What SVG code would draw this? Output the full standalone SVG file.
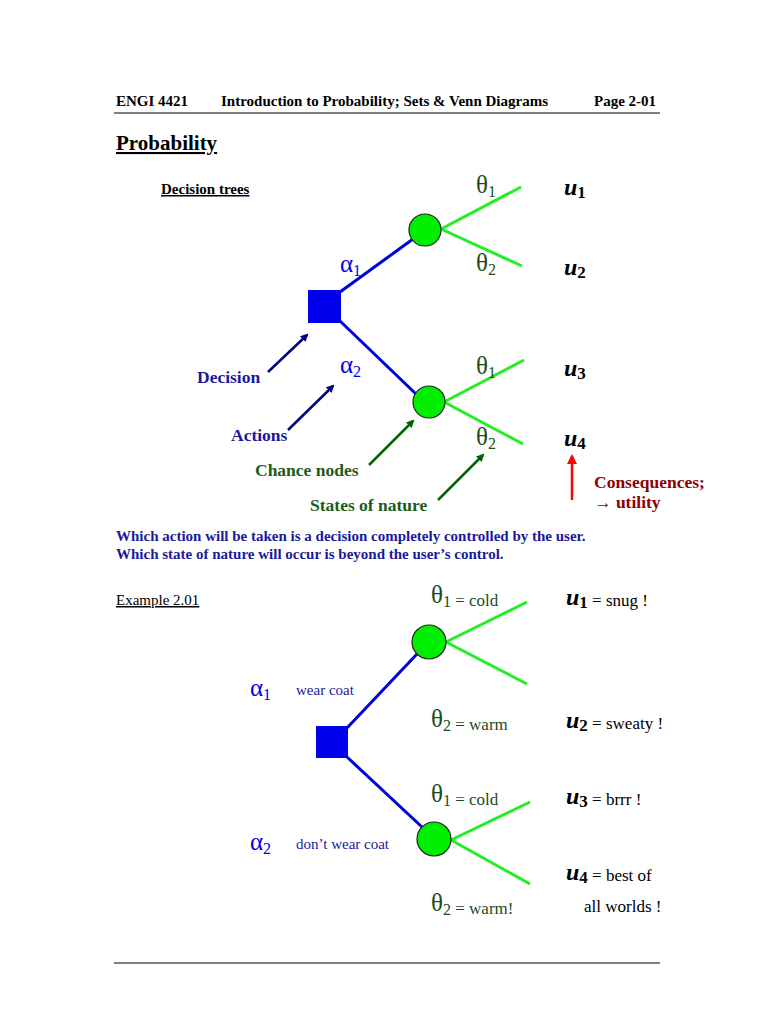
<svg xmlns="http://www.w3.org/2000/svg" width="768" height="1024" viewBox="0 0 768 1024">
<defs>
<marker id="an" markerWidth="8" markerHeight="8" refX="6" refY="4" orient="auto" markerUnits="userSpaceOnUse"><path d="M0,0 L8,4 L0,8 z" fill="#000080"/></marker>
<marker id="ag" markerWidth="8" markerHeight="8" refX="6" refY="4" orient="auto" markerUnits="userSpaceOnUse"><path d="M0,0 L8,4 L0,8 z" fill="#006400"/></marker>
<marker id="ar" markerWidth="10" markerHeight="10" refX="8" refY="5" orient="auto" markerUnits="userSpaceOnUse"><path d="M0,0 L10,5 L0,10 z" fill="#ff0000"/></marker>
</defs>
<style>
text{font-family:"Liberation Serif",serif}
.h{font-size:15px;font-weight:bold}
.blue{stroke:#0000dd;stroke-width:3;fill:none}
.grn{stroke:#22ee22;stroke-width:3;fill:none}
.cir{fill:#00ee00;stroke:#222;stroke-width:1.2}
.sq{fill:#0000ee}
.th{fill:#1a4d1a;font-size:25px}
.al{fill:#0000ee;font-size:25px}
.u{font-size:24px;font-weight:bold;font-style:italic}
.lab{font-size:17.5px;font-weight:bold}
.sm{font-size:17px}
</style>
<rect width="768" height="1024" fill="#fff"/>
<g id="header">
<text x="116" y="106" class="h">ENGI 4421</text>
<text x="221" y="106" class="h">Introduction to Probability; Sets &amp; Venn Diagrams</text>
<text x="594" y="106" class="h">Page 2-01</text>
<line x1="114" y1="113" x2="660" y2="113" stroke="#000" stroke-width="1"/>
<text x="116" y="150" font-size="21" font-weight="bold" text-decoration="underline">Probability</text>
<text x="161" y="194" class="h" text-decoration="underline">Decision trees</text>
</g>
<g id="connectors">
<path class="blue" d="M340,292 L413,239 M340,321 L416,394"/>
<path class="grn" d="M441,229 L521,187 M441,229 L522,266 M444,402 L524,360 M444,402 L523,444"/>
<path class="blue" d="M347,728 L417,654 M347,757 L422,827"/>
<path class="grn" d="M446,642 L527,602 M446,642 L527,684 M451,840 L530,802 M451,840 L530,884"/>
<line x1="268" y1="372" x2="307" y2="335" stroke="#000080" stroke-width="2.5" marker-end="url(#an)"/>
<line x1="288" y1="430" x2="333" y2="386" stroke="#000080" stroke-width="2.5" marker-end="url(#an)"/>
<line x1="369" y1="465" x2="413" y2="421" stroke="#006400" stroke-width="2.5" marker-end="url(#ag)"/>
<line x1="438" y1="500" x2="483" y2="455" stroke="#006400" stroke-width="2.5" marker-end="url(#ag)"/>
<line x1="572" y1="500" x2="572" y2="456" stroke="#ff0000" stroke-width="2.5" marker-end="url(#ar)"/>
</g>
<g id="decision1"><rect class="sq" x="308" y="290" width="33" height="33"/></g>
<g id="chance1"><circle class="cir" cx="425" cy="230" r="16"/></g>
<g id="chance2"><circle class="cir" cx="429" cy="402" r="16"/></g>
<g id="labels1">
<text x="476" y="193" class="th">θ<tspan font-size="16" dy="4">1</tspan></text>
<text x="476" y="271" class="th">θ<tspan font-size="16" dy="4">2</tspan></text>
<text x="476" y="374" class="th">θ<tspan font-size="16" dy="4">1</tspan></text>
<text x="476" y="445" class="th">θ<tspan font-size="16" dy="4">2</tspan></text>
<text x="340" y="272" class="al">α<tspan font-size="16" dy="4">1</tspan></text>
<text x="340" y="373" class="al">α<tspan font-size="16" dy="4">2</tspan></text>
<text x="564" y="195" class="u">u<tspan font-size="17" font-style="normal" dy="3">1</tspan></text>
<text x="564" y="275" class="u">u<tspan font-size="17" font-style="normal" dy="3">2</tspan></text>
<text x="564" y="376" class="u">u<tspan font-size="17" font-style="normal" dy="3">3</tspan></text>
<text x="564" y="446" class="u">u<tspan font-size="17" font-style="normal" dy="3">4</tspan></text>
<text x="197" y="383" class="lab" fill="#1a1a99">Decision</text>
<text x="231" y="441" class="lab" fill="#1a1a99">Actions</text>
<text x="255" y="476" class="lab" fill="#1a5c1a">Chance nodes</text>
<text x="310" y="511" class="lab" fill="#1a5c1a">States of nature</text>
<text x="594" y="488" class="lab" fill="#8b0000">Consequences;</text>
<text x="594" y="508" class="lab" fill="#8b0000"><tspan font-weight="normal">→</tspan>    utility</text>
</g>
<g id="notes">
<text x="116" y="541" class="h" fill="#1a1a99">Which action will be taken is a decision completely controlled by the user.</text>
<text x="116" y="559" class="h" fill="#1a1a99">Which state of nature will occur is beyond the user’s control.</text>
<text x="116" y="605" font-size="15" text-decoration="underline">Example 2.01</text>
</g>
<g id="decision2"><rect class="sq" x="316" y="726" width="32" height="32"/></g>
<g id="chance3"><circle class="cir" cx="429" cy="642" r="17"/></g>
<g id="chance4"><circle class="cir" cx="434" cy="839" r="17"/></g>
<g id="labels2">
<text x="431" y="603" class="th">θ<tspan font-size="16" dy="4">1</tspan><tspan class="sm" dy="-1"> = cold</tspan></text>
<text x="431" y="727" class="th">θ<tspan font-size="16" dy="4">2</tspan><tspan class="sm" dy="-1"> = warm</tspan></text>
<text x="431" y="802" class="th">θ<tspan font-size="16" dy="4">1</tspan><tspan class="sm" dy="-1"> = cold</tspan></text>
<text x="431" y="911" class="th">θ<tspan font-size="16" dy="4">2</tspan><tspan class="sm" dy="-1"> = warm!</tspan></text>
<text x="250" y="696" class="al">α<tspan font-size="16" dy="4">1</tspan></text>
<text x="250" y="850" class="al">α<tspan font-size="16" dy="4">2</tspan></text>
<text x="296" y="695" font-size="15" fill="#1a1a99">wear coat</text>
<text x="296" y="849" font-size="15" fill="#1a1a99">don’t wear coat</text>
<text x="566" y="605" class="u">u<tspan font-size="17" font-style="normal" dy="3">1</tspan><tspan class="sm" font-weight="normal" font-style="normal" dy="-2"> = snug !</tspan></text>
<text x="566" y="728" class="u">u<tspan font-size="17" font-style="normal" dy="3">2</tspan><tspan class="sm" font-weight="normal" font-style="normal" dy="-2"> = sweaty !</tspan></text>
<text x="566" y="804" class="u">u<tspan font-size="17" font-style="normal" dy="3">3</tspan><tspan class="sm" font-weight="normal" font-style="normal" dy="-2"> = brrr !</tspan></text>
<text x="566" y="880" class="u">u<tspan font-size="17" font-style="normal" dy="3">4</tspan><tspan class="sm" font-weight="normal" font-style="normal" dy="-2"> = best of</tspan></text>
<text x="584" y="912" class="sm">all worlds !</text>
</g>
<line x1="114" y1="963" x2="660" y2="963" stroke="#000" stroke-width="1"/>
</svg>
